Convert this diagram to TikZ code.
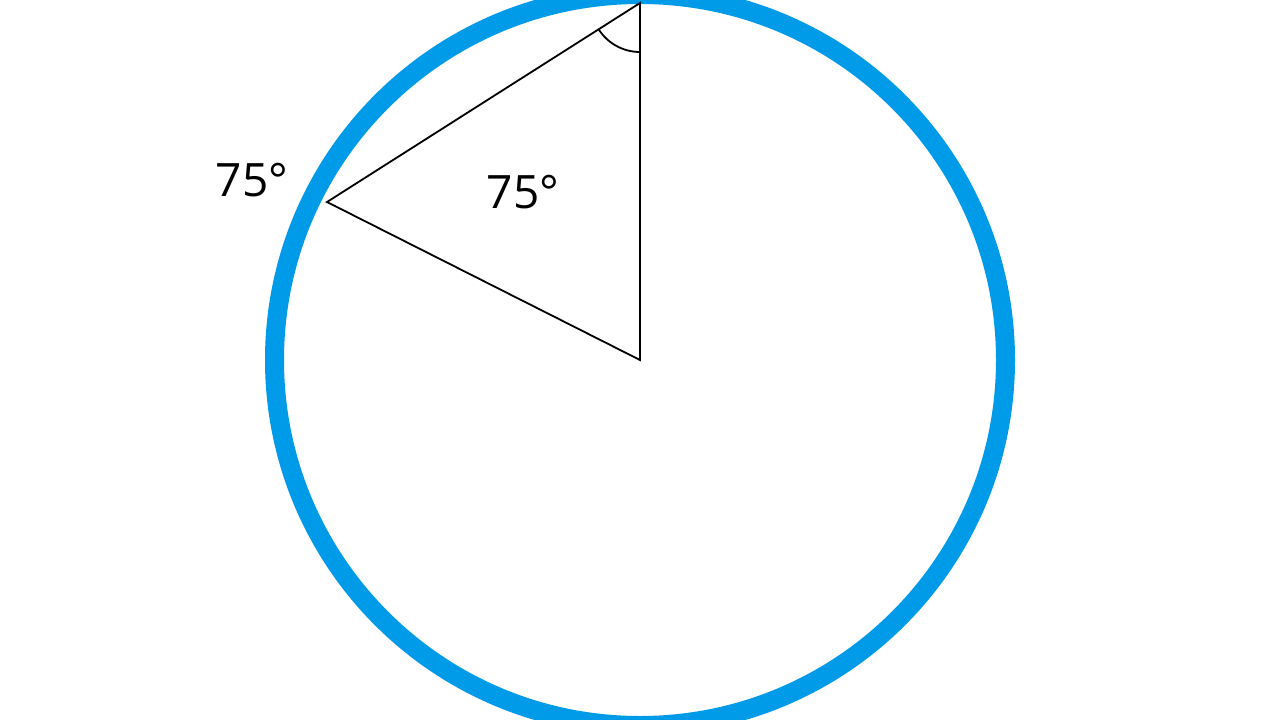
\documentclass[tikz,border=0pt]{standalone}
\usepackage{fontspec}
\setmainfont{Open Sans}
\definecolor{ringblue}{RGB}{0,155,232}
\begin{document}
\begin{tikzpicture}[x=1pt,y=-1pt,
  lbl/.style={font=\fontsize{46}{50}\selectfont, text=black, inner sep=0pt},
  edge/.style={draw=black, line width=1.8pt}]
\useasboundingbox (0,0) rectangle (1280,720);
\fill[white] (0,0) rectangle (1280,720);
\begin{scope}
\clip (0,0) rectangle (1280,720);
\draw[ringblue, line width=19pt] (640,360) circle [radius=365.5];
\end{scope}
\coordinate (O) at (640,360);
\coordinate (T) at (640,3);
\coordinate (L) at (327,202);
\draw[edge, line join=miter] (O) -- (T) -- (L) -- cycle;
\draw[edge] (640,52) arc[start angle=90, end angle=147.6, radius=49];
\node[lbl] (a1) at (252,180) {75°};
\node[lbl] (a2) at (523,192) {75°};
\end{tikzpicture}
\end{document}
